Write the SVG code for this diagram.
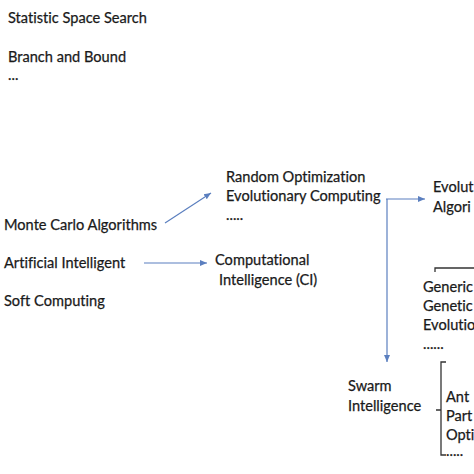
<svg xmlns="http://www.w3.org/2000/svg" width="474" height="474" viewBox="0 0 474 474">
<defs>
<style>
text{font-family:Lato,"Open Sans","Liberation Sans",sans-serif;font-size:14.6px;fill:#1a1a1a;stroke:#1a1a1a;stroke-width:0.25;font-variant-ligatures:none}
.c{stroke:#5b7fbf;stroke-width:1.2;fill:none}
.b{stroke:#333;stroke-width:1.3;fill:none}
</style>
<marker id="ah" markerWidth="8" markerHeight="8" refX="7" refY="4" orient="auto" markerUnits="userSpaceOnUse">
<path d="M0,1 L7,4 L0,7 Z" fill="#5b7fbf"/>
</marker>
</defs>
<rect width="474" height="474" fill="#fff"/>
<g id="n-sss"><text x="8" y="23">Statistic Space Search</text></g>
<g id="n-bb"><text x="8" y="62">Branch and Bound</text></g>
<g id="n-dots1"><text x="8" y="80">...</text></g>
<g id="n-mc"><text x="4" y="230">Monte Carlo Algorithms</text></g>
<g id="n-ai"><text x="4" y="268">Artificial Intelligent</text></g>
<g id="n-sc"><text x="4" y="306">Soft Computing</text></g>
<g id="n-ro"><text x="226" y="182">Random Optimization</text><text x="226" y="201">Evolutionary Computing</text><text x="226" y="220">.....</text></g>
<g id="n-ci"><text x="215" y="265">Computational</text><text x="219" y="285">Intelligence  (CI)</text></g>
<g id="n-ea"><text x="433" y="192">Evolut</text><text x="433" y="212">Algori</text></g>
<g id="n-ga"><path class="b" d="M435,272 V268 H474"/><text x="423" y="292">Generic</text><text x="423" y="311">Genetic</text><text x="423" y="330">Evolutio</text><text x="423" y="349">......</text></g>
<g id="n-si"><text x="348" y="391">Swarm</text><text x="348" y="411">Intelligence</text></g>
<g id="n-sl"><path class="b" d="M446,362 H441 V455 H446 M436,410 H441"/><text x="446" y="402">Ant</text><text x="446" y="421">Part</text><text x="446" y="440">Opti</text><text x="446" y="456">.....</text></g>
<g id="connectors">
<path class="c" d="M165,223 L211,193" marker-end="url(#ah)"/>
<path class="c" d="M144,263 H207" marker-end="url(#ah)"/>
<path class="c" d="M386,199 H425" marker-end="url(#ah)"/>
<path class="c" d="M387,199 V362" marker-end="url(#ah)"/>
</g>
</svg>
